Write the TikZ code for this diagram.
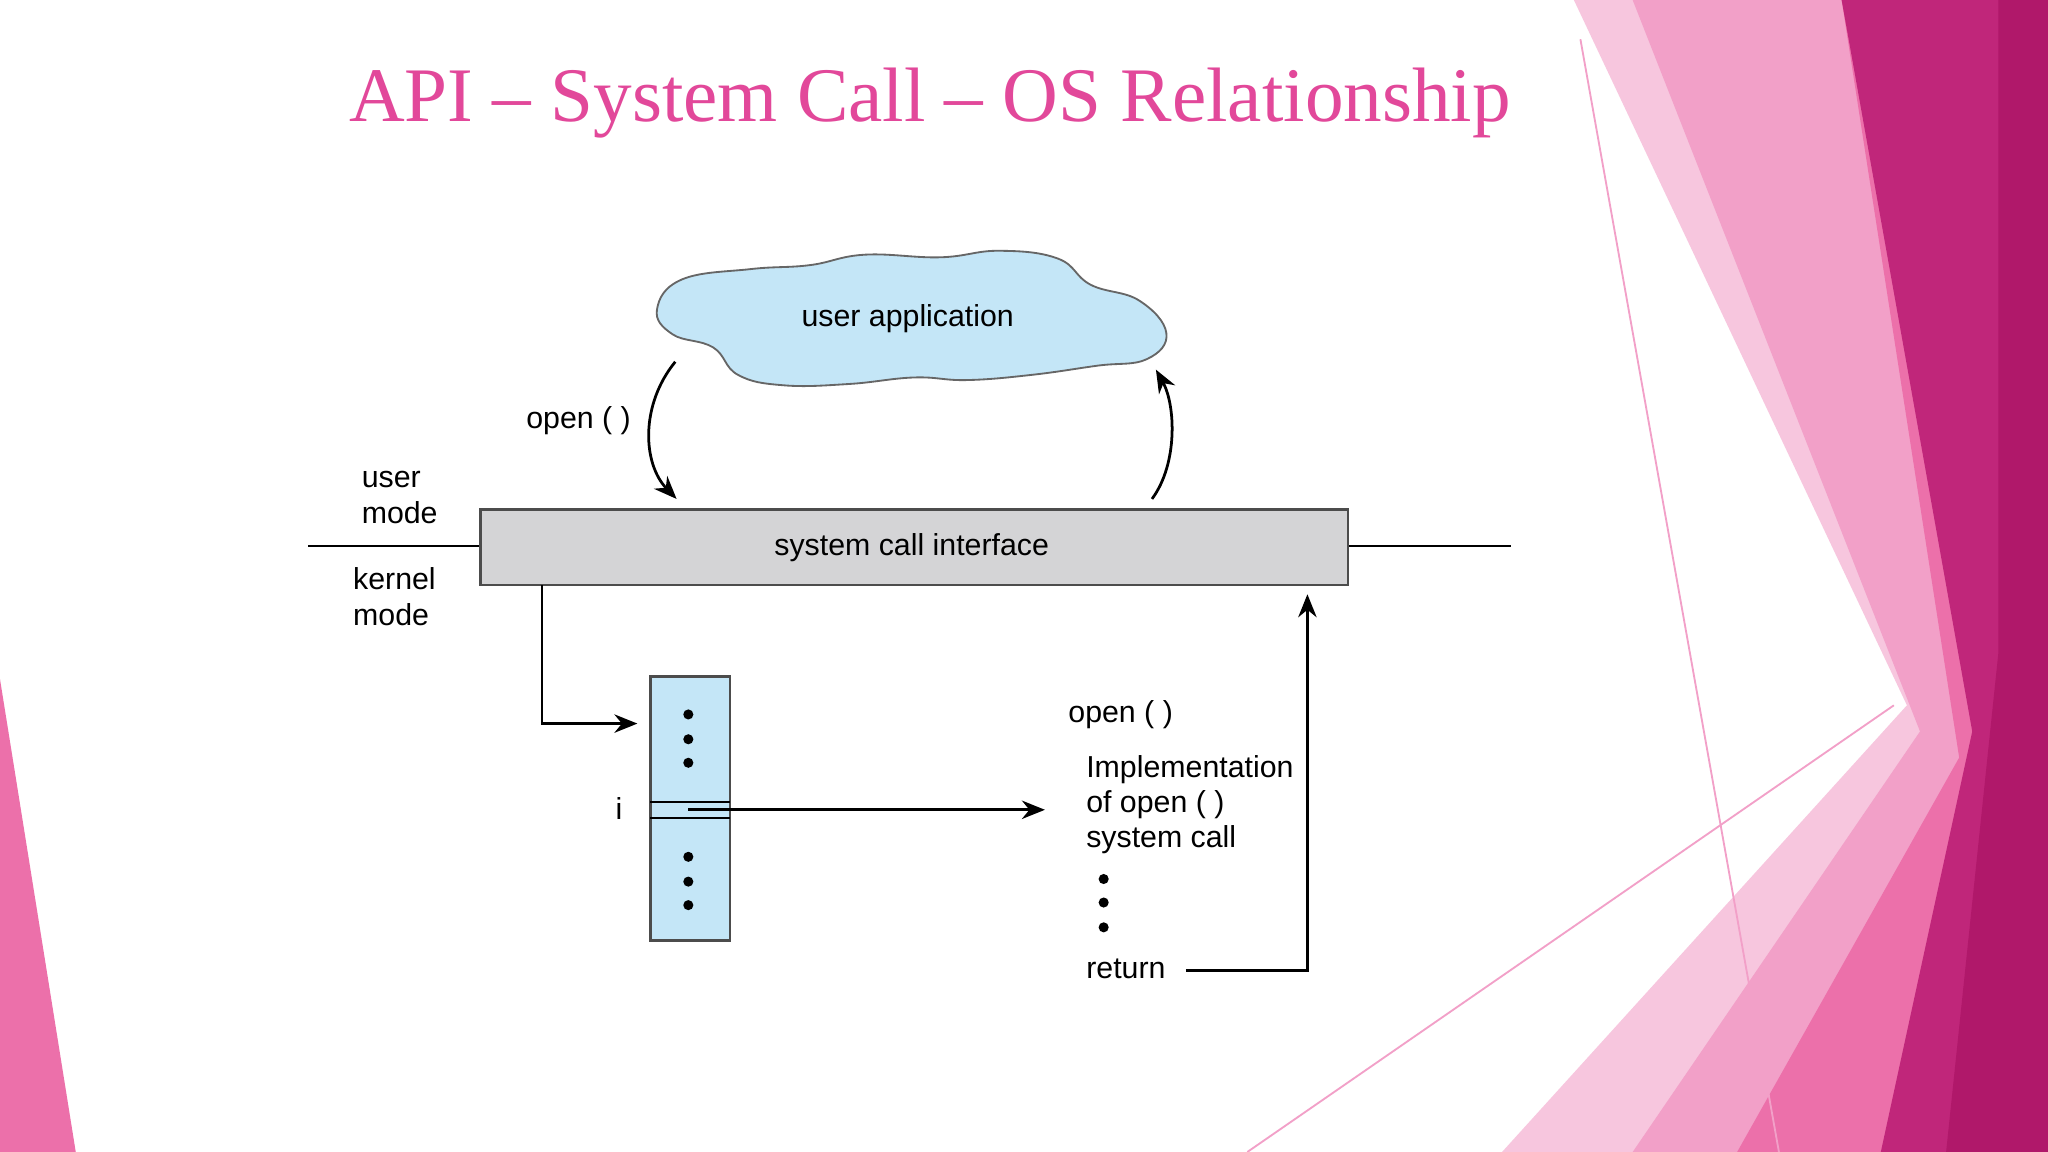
\documentclass[tikz,border=0pt]{standalone}
\usepackage{fontspec}
\setmainfont{Liberation Serif}
\newfontfamily\sansf{Liberation Sans}
\usetikzlibrary{arrows.meta}
\definecolor{titlepink}{RGB}{226,72,154}
\definecolor{lpink}{RGB}{242,160,200}
\definecolor{mpink}{RGB}{236,112,170}
\definecolor{mag}{RGB}{192,38,122}
\definecolor{dmag}{RGB}{176,24,106}
\definecolor{lblue}{RGB}{196,230,247}
\definecolor{sgray}{RGB}{212,212,214}
\begin{document}
\begin{tikzpicture}[x=0.01cm,y=-0.01cm,
  lbl/.style={font=\sansf\fontsize{6.6}{7.8}\selectfont,inner sep=0pt},
  arr/.style={line width=0.6pt,-{Stealth[length=5pt,width=4pt]}},
  dot/.style={circle,fill=black,inner sep=0pt,minimum size=2.2pt}]
\useasboundingbox (0,0) rectangle (1568,882);
\fill[white] (0,0) rectangle (1568,882);
% background
\fill[lpink!60] (1205,0) -- (1568,0) -- (1568,882) -- (1150,882) -- (1460,540) -- cycle;
\fill[lpink] (1250,0) -- (1568,0) -- (1568,882) -- (1250,882) -- (1470,560) -- cycle;
\fill[mpink] (1410,0) -- (1568,0) -- (1568,882) -- (1330,882) -- (1500,580) -- cycle;
\fill[mag] (1410,0) -- (1568,0) -- (1568,882) -- (1440,882) -- (1510,560) -- cycle;
\fill[dmag] (1530,0) -- (1568,0) -- (1568,882) -- (1490,882) -- (1530,500) -- cycle;
\fill[mpink] (0,520) -- (58,882) -- (0,882) -- cycle;
\draw[lpink,line width=0.4pt] (1210,30) -- (1362,882);
\draw[lpink,line width=0.4pt] (955,882) -- (1450,540);
% title
\node[text=titlepink,font=\fontsize{16.8}{20}\selectfont,inner sep=0pt] (title) at (712,79) {API -- System Call -- OS Relationship};
% cloud
\draw[draw=black!60,line width=0.4pt,fill=lblue] plot[smooth cycle,tension=0.7] coordinates {(503,237) (522,214) (575,206) (620,203) (662,195) (720,197) (765,192) (810,198) (835,218) (872,230) (893,255) (878,275) (840,280) (790,287) (740,291) (700,289) (650,294) (600,295) (565,287) (546,266) (515,256)};
\node[lbl] (app) at (695,244) {user application};
% mode line
\coordinate (ml) at (236,418); \coordinate (mr) at (1157,418);
\draw[line width=0.5pt] (ml) -- (mr);
\node[draw=black!70,fill=sgray,line width=0.5pt,minimum width=6.64cm,minimum height=0.58cm,inner sep=0pt] (sci) at (700,419) {};
\node[lbl] (scil) at (698,419) {system call interface};
\node[lbl,align=left] (um) at (306,381) {user\\mode};
\node[lbl,align=left] (km) at (302,457) {kernel\\mode};
% upper arrows
\coordinate (a1) at (517,277); \coordinate (a2) at (518,382);
\draw[arr] (a1) .. controls (490,310) and (492,355) .. (a2);
\node[lbl] (open1) at (443,322) {open ( )};
\coordinate (b1) at (882,382); \coordinate (b2) at (885,283);
\draw[arr] (b1) .. controls (902,355) and (900,310) .. (b2);
% table
\node[draw=black!70,fill=lblue,line width=0.5pt,minimum width=0.61cm,minimum height=2.02cm,inner sep=0pt] (tab) at (528.5,619) {};
\draw[line width=0.4pt] (498,614) -- (559,614) (498,626) -- (559,626);
\foreach \y in {547,566,584,656,675,693} \node[dot] at (527,\y) {};
\node[lbl] (ilbl) at (474,619) {i};
\coordinate (s1) at (415,448); \coordinate (s2) at (488,554);
\draw[arr] (s1) |- (s2);
\coordinate (e1) at (527,620); \coordinate (e2) at (800,620);
\draw[arr] (e1) -- (e2);
% implementation
\node[lbl] (open2) at (858,547) {open ( )};
\node[lbl,align=left,anchor=west,font=\sansf\fontsize{6.6}{7.7}\selectfont] (impl) at (831,616) {Implementation\\of open ( )\\system call};
\foreach \y in {673,691,710} \node[dot] at (845,\y) {};
\node[lbl,anchor=west] (ret) at (831,742) {return};
\coordinate (r1) at (908,743); \coordinate (r2) at (1001,455);
\draw[arr] (r1) -| (r2);
\end{tikzpicture}
\end{document}
